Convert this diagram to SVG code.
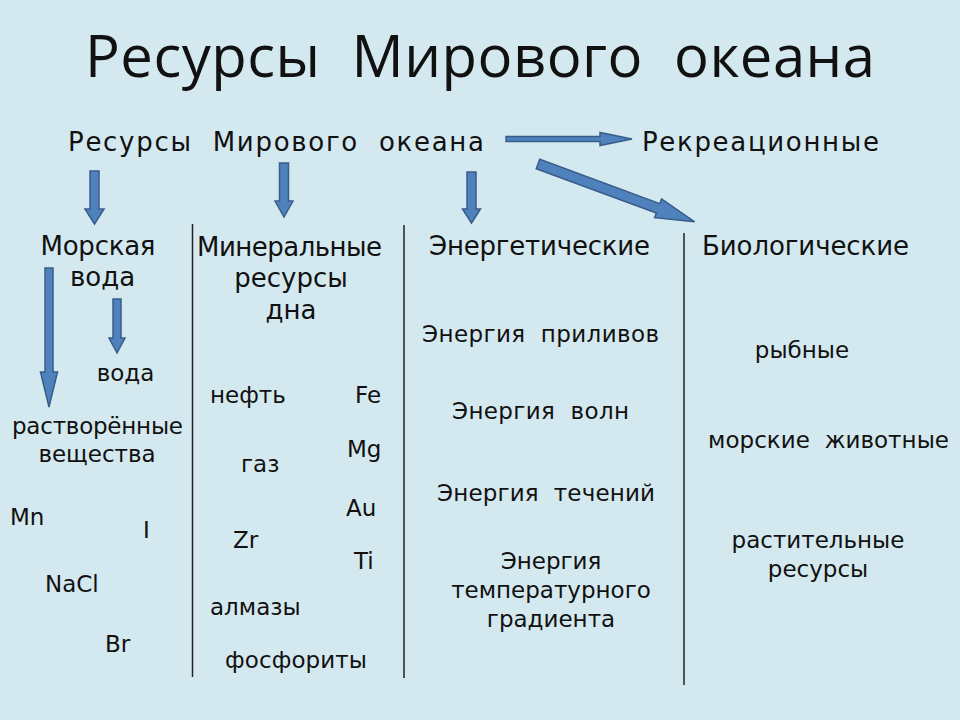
<svg xmlns="http://www.w3.org/2000/svg" width="960" height="720" viewBox="0 0 960 720">
<style>
.bg{fill:#D4E9EF}
.t{font-family:"DejaVu Sans",Verdana,sans-serif;fill:#111;font-size:23px}
.h{font-size:26px}
.sub{font-size:26px}
.c{text-anchor:middle}
.title{font-family:"Open Sans","Noto Sans",sans-serif;font-size:58px;fill:#111}
.arr{fill:#4F81BD;stroke:#385D8A;stroke-width:1.5;stroke-linejoin:miter}
.div{stroke:#222;stroke-width:1.5}
</style>
<rect class="bg" x="0" y="0" width="960" height="720"/>
<g id="title"><text class="title" x="85" y="77" textLength="790" xml:space="preserve">Ресурсы  Мирового  океана</text></g>
<g id="dividers">
<line class="div" x1="192.5" y1="224" x2="192.5" y2="677"/>
<line class="div" x1="404" y1="225" x2="404" y2="678"/>
<line class="div" x1="684" y1="233" x2="684" y2="685"/>
</g>
<g id="connectors">
<path class="arr" d="M90,171 H99 V209 H104 L94.5,224 L85,209 H90 Z"/>
<path class="arr" d="M279.5,163 H288.5 V201 H293 L284,217 L275,201 H279.5 Z"/>
<path class="arr" d="M467,172 H476 V209 H480.5 L471.5,223 L462.5,209 H467 Z"/>
<path class="arr" d="M45,268 H53 V372 H57.5 L49,407 L40.5,372 H45 Z"/>
<path class="arr" d="M113,299 H121 V338 H125 L117,353 L109,338 H113 Z"/>
<path class="arr" d="M506,136.5 H600 V132.5 L632,139 L600,145.5 V141.5 H506 Z"/>
<path class="arr" transform="translate(538,164) rotate(20.27)" d="M0,-5 H128 V-10 L167,0 L128,10 V5 H0 Z"/>
</g>
<g id="n-root"><text class="t sub" x="68" y="151" textLength="416" xml:space="preserve">Ресурсы  Мирового  океана</text></g>
<g id="n-recreation"><text class="t sub" x="642" y="151" textLength="237">Рекреационные</text></g>
<g id="n-seawater">
<text class="t h" x="40.5" y="255" textLength="115">Морская</text>
<text class="t h c" x="102.5" y="286">вода</text>
</g>
<g id="n-mineral">
<text class="t h" x="197" y="256" textLength="185">Минеральные</text>
<text class="t h c" x="291" y="287">ресурсы</text>
<text class="t h c" x="291" y="319">дна</text>
</g>
<g id="n-energy"><text class="t h" x="429" y="255" textLength="221">Энергетические</text></g>
<g id="n-bio"><text class="t h" x="702" y="255" textLength="207">Биологические</text></g>
<g id="n-water"><text class="t c" x="125.5" y="381">вода</text></g>
<g id="n-dissolved">
<text class="t" x="12" y="434" textLength="171">растворённые</text>
<text class="t c" x="97" y="462">вещества</text>
</g>
<g id="n-mn"><text class="t" x="10" y="525">Mn</text></g>
<g id="n-i"><text class="t" x="143" y="538">I</text></g>
<g id="n-nacl"><text class="t" x="45" y="592">NaCl</text></g>
<g id="n-br"><text class="t" x="105" y="652">Br</text></g>
<g id="n-oil"><text class="t" x="210" y="403">нефть</text></g>
<g id="n-fe"><text class="t" x="355" y="403">Fe</text></g>
<g id="n-mg"><text class="t" x="347" y="457">Mg</text></g>
<g id="n-gas"><text class="t" x="241" y="472">газ</text></g>
<g id="n-au"><text class="t" x="346" y="516">Au</text></g>
<g id="n-zr"><text class="t" x="233" y="548">Zr</text></g>
<g id="n-ti"><text class="t" x="354" y="569">Ti</text></g>
<g id="n-diamonds"><text class="t" x="210" y="615">алмазы</text></g>
<g id="n-phosphorites"><text class="t" x="225" y="668" textLength="142">фосфориты</text></g>
<g id="n-tides"><text class="t" x="422" y="342" textLength="237" xml:space="preserve">Энергия  приливов</text></g>
<g id="n-waves"><text class="t" x="452" y="419" textLength="177" xml:space="preserve">Энергия  волн</text></g>
<g id="n-currents"><text class="t" x="437" y="501" textLength="218" xml:space="preserve">Энергия  течений</text></g>
<g id="n-thermal">
<text class="t c" x="551" y="569">Энергия</text>
<text class="t c" x="551" y="598">температурного</text>
<text class="t c" x="551" y="627">градиента</text>
</g>
<g id="n-fish"><text class="t c" x="802" y="358">рыбные</text></g>
<g id="n-animals"><text class="t" x="708" y="448" textLength="241" xml:space="preserve">морские  животные</text></g>
<g id="n-plants">
<text class="t c" x="818" y="548">растительные</text>
<text class="t c" x="818" y="577">ресурсы</text>
</g>
</svg>
